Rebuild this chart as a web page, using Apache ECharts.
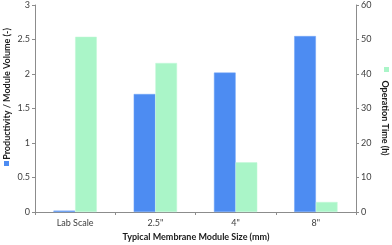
<!DOCTYPE html>
<html><head><meta charset="utf-8">
<script src="https://cdn.jsdelivr.net/npm/echarts@6/dist/echarts.min.js"></script>
<style>html,body{margin:0;padding:0;background:#fff}#c{width:392px;height:245px}</style>
</head><body><div id="c"></div>
<script>
var categories = ['Lab Scale', '2.5"', '4"', '8"'];
var productivity = [0.02, 1.71, 2.02, 2.55];
var operationTime = [50.8, 43.2, 14.4, 2.9];
var leftTicks = [0, 0.5, 1, 1.5, 2, 2.5, 3];
var rightTicks = [0, 10, 20, 30, 40, 50, 60];

var FONT = 'Lato, "Open Sans", sans-serif';
var BLUE = '#4d8cf2';
var GREEN = '#aaf5c8';
var chart = echarts.init(document.getElementById('c'), null, {renderer: 'canvas'});
var axisCommon = {
  axisLine: {show: true, lineStyle: {color: '#8c8c8c', width: 1}},
  axisTick: {show: true, length: 3, lineStyle: {color: '#8c8c8c'}},
  splitLine: {show: false},
  axisLabel: {color: '#404040', fontSize: 9, fontFamily: FONT, margin: 5}
};
chart.setOption({
  animation: false,
  grid: {left: 35, right: 36, top: 5, bottom: 33, containLabel: false},
  xAxis: {
    type: 'category', data: categories,
    axisLine: {show: true, lineStyle: {color: '#8c8c8c'}},
    axisTick: {show: true, length: 3, alignWithLabel: false, lineStyle: {color: '#8c8c8c'}},
    axisLabel: {color: '#404040', fontSize: 9, fontFamily: FONT, margin: 7}
  },
  yAxis: [
    Object.assign({type: 'value', min: 0, max: 3, interval: 0.5, position: 'left'}, axisCommon),
    Object.assign({type: 'value', min: 0, max: 60, interval: 10, position: 'right'}, axisCommon)
  ],
  series: [
    {type: 'bar', name: 'Productivity / Module Volume (-)', data: productivity, yAxisIndex: 0,
     barGap: '0%', barCategoryGap: '46%', itemStyle: {color: BLUE, borderColor: '#6fa3f7', borderWidth: 0.5}},
    {type: 'bar', name: 'Operation Time (h)', data: operationTime, yAxisIndex: 1,
     barGap: '0%', barCategoryGap: '46%', itemStyle: {color: GREEN, borderColor: '#c2f9d8', borderWidth: 0.5}}
  ],
  graphic: [
    {type: 'text', x: 7, y: 94, rotation: Math.PI / 2,
     style: {text: 'Productivity / Module Volume (-)', font: 'bold 9px ' + FONT, fill: '#1a1a1a', align: 'center', verticalAlign: 'middle'}},
    {type: 'rect', shape: {x: 4, y: 161, width: 5, height: 5}, style: {fill: BLUE}},
    {type: 'text', x: 385, y: 118, rotation: -Math.PI / 2,
     style: {text: 'Operation Time (h)', font: 'bold 9px ' + FONT, fill: '#1a1a1a', align: 'center', verticalAlign: 'middle'}},
    {type: 'rect', shape: {x: 384, y: 67, width: 5, height: 5}, style: {fill: GREEN}},
    {type: 'text', x: 196, y: 237,
     style: {text: 'Typical Membrane Module Size (mm)', font: 'bold 9px ' + FONT, fill: '#1a1a1a', align: 'center', verticalAlign: 'middle'}}
  ]
});
</script></body></html>
